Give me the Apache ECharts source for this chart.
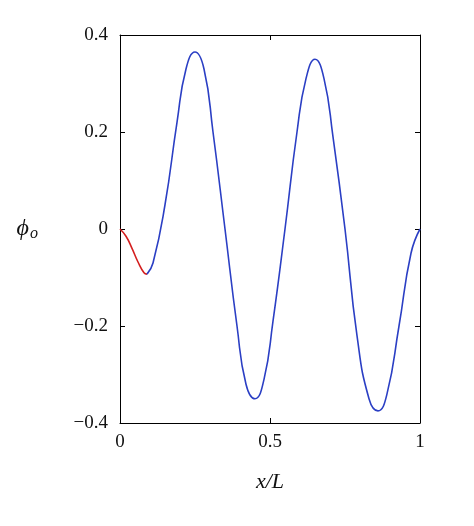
<!DOCTYPE html>
<html><head><meta charset="utf-8">
<script src="https://cdn.jsdelivr.net/npm/echarts@6/dist/echarts.min.js"></script>
<style>html,body{margin:0;background:#fff}#c{width:474px;height:526px}</style>
</head><body><div id="c"></div>
<script>
// red segment (start of the curve)
const redPts = [[0,0],[0.02,-0.015],[0.04,-0.04],[0.06,-0.068],[0.08,-0.09],[0.09,-0.093]];
// blue segment
const bluePts = [[0.09,-0.093],[0.11,-0.07],[0.15,0.05],[0.19,0.22],[0.22,0.33],[0.25,0.365],[0.28,0.33],
  [0.31,0.2],[0.35,0.0],[0.39,-0.2],[0.42,-0.32],[0.45,-0.35],[0.48,-0.31],[0.51,-0.19],[0.55,0.0],
  [0.59,0.2],[0.62,0.31],[0.65,0.35],[0.68,0.31],[0.71,0.19],[0.75,0.0],[0.79,-0.22],[0.83,-0.35],
  [0.86,-0.375],[0.89,-0.34],[0.93,-0.2],[0.97,-0.05],[1.0,0]];
const font = 'Liberation Serif';
const chart = echarts.init(document.getElementById('c'));
const axisBase = {
  axisLine: {show: true, onZero: false, lineStyle: {color: '#000', width: 1}},
  axisTick: {show: true, inside: true, length: 5, lineStyle: {color: '#000'}},
  splitLine: {show: false},
  axisLabel: {color: '#111', fontFamily: font, fontSize: 19}
};
chart.setOption({
  animation: false,
  grid: {left: 120, right: 54, top: 35, bottom: 103},
  xAxis: [
    {...axisBase, type: 'value', min: 0, max: 1, interval: 0.5,
     axisLabel: {...axisBase.axisLabel, margin: 10, formatter: v => String(v)},
     name: 'x/L', nameLocation: 'middle', nameGap: 48,
     nameTextStyle: {fontFamily: font, fontSize: 22, fontStyle: 'italic', color: '#111'}},
    {...axisBase, type: 'value', min: 0, max: 1, interval: 0.5, position: 'top', axisLabel: {show: false}}
  ],
  yAxis: [
    {...axisBase, type: 'value', min: -0.4, max: 0.4, interval: 0.2,
     axisLabel: {...axisBase.axisLabel, margin: 12, formatter: v => v === 0 ? '0' : (v < 0 ? '\u2212' + Math.abs(v).toFixed(1) : v.toFixed(1))},
     name: '{p|ϕ}{s|o}', nameLocation: 'middle', nameRotate: 0, nameGap: 82,
     nameTextStyle: {rich: {
       p: {fontFamily: font, fontSize: 24, fontStyle: 'italic', color: '#111'},
       s: {fontFamily: font, fontSize: 16, fontStyle: 'italic', color: '#111', padding: [10, 0, 0, 1]}
     }}},
    {...axisBase, type: 'value', min: -0.4, max: 0.4, interval: 0.2, position: 'right', axisLabel: {show: false}}
  ],
  series: [
    {type: 'line', data: redPts, smooth: true, symbol: 'none', lineStyle: {color: '#d42020', width: 1.6}},
    {type: 'line', data: bluePts, smooth: true, symbol: 'none', lineStyle: {color: '#2b3fc4', width: 1.6}},
    {type: 'line', data: [], xAxisIndex: 1, yAxisIndex: 1}
  ]
});
</script></body></html>
